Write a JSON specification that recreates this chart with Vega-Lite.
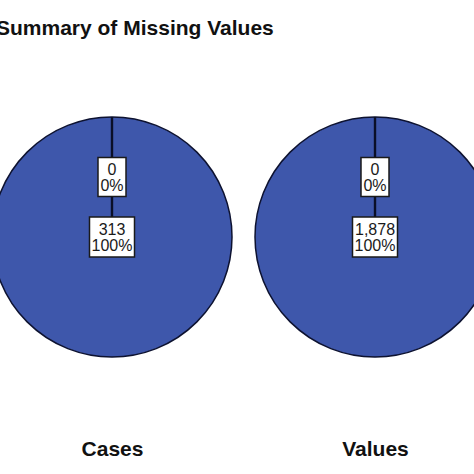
{
  "$schema": "https://vega.github.io/schema/vega-lite/v6.json",
  "width": 474,
  "height": 354,
  "autosize": {"type": "none"},
  "padding": {"top": 60, "bottom": 60, "left": 0, "right": 0},
  "background": "white",
  "title": {
    "text": "Summary of Missing Values",
    "anchor": "start",
    "frame": "group",
    "dx": -4,
    "offset": 4,
    "baseline": "alphabetic",
    "font": "Liberation Sans",
    "fontSize": 21,
    "fontWeight": "bold",
    "color": "#111111"
  },
  "config": {"view": {"stroke": null}},
  "data": {
    "values": [
      {"group": "Cases", "status": "Valid", "count": 313, "pct": 1, "panel": "all"},
      {"group": "Cases", "status": "Missing", "count": 0, "pct": 0, "panel": "all"},
      {"group": "Values", "status": "Valid", "count": 1878, "pct": 1, "panel": "all"},
      {"group": "Values", "status": "Missing", "count": 0, "pct": 0, "panel": "all"}
    ]
  },
  "encoding": {
    "x": {
      "field": "group",
      "type": "nominal",
      "sort": ["Cases", "Values"],
      "scale": {"type": "point", "range": [112, 375], "padding": 0},
      "axis": {
        "title": null,
        "orient": "bottom",
        "domain": false,
        "ticks": false,
        "tickSize": 0,
        "grid": false,
        "labelPadding": 41,
        "labelBaseline": "alphabetic",
        "labelFont": "Liberation Sans",
        "labelFontSize": 21,
        "labelFontWeight": "bold",
        "labelColor": "#111111",
        "labelAngle": 0
      }
    },
    "y": {
      "field": "panel",
      "type": "nominal",
      "scale": {"type": "point", "padding": 0.5},
      "axis": null
    }
  },
  "layer": [
    {
      "transform": [
        {"stack": "count", "groupby": ["group"], "offset": "normalize", "sort": [{"field": "pct", "order": "ascending"}], "as": ["t0", "t1"]}
      ],
      "mark": {"type": "arc", "outerRadius": 120, "fill": "#3E57AB", "stroke": "#0d1230", "strokeWidth": 1.5},
      "encoding": {
        "theta": {"field": "t0", "type": "quantitative", "scale": {"domain": [0, 1]}},
        "theta2": {"field": "t1"}
      }
    },
    {
      "transform": [
        {"stack": "count", "groupby": ["group"], "offset": "normalize", "sort": [{"field": "pct", "order": "ascending"}], "as": ["t0", "t1"]},
        {"filter": "datum.count == 0"}
      ],
      "mark": {"type": "arc", "outerRadius": 120, "fill": "#3E57AB", "stroke": "#0a0f28", "strokeWidth": 2.4},
      "encoding": {
        "theta": {"field": "t0", "type": "quantitative", "scale": {"domain": [0, 1]}},
        "theta2": {"field": "t1"}
      }
    },
    {
      "transform": [{"filter": "datum.count == 0"}],
      "mark": {"type": "point", "shape": "M-0.718,-1H0.718V1H-0.718Z", "size": 1521, "filled": true, "fill": "white", "stroke": "#1a1a1a", "strokeWidth": 1.5, "opacity": 1, "fillOpacity": 1, "yOffset": -60}
    },
    {
      "transform": [{"filter": "datum.count > 0"}],
      "mark": {"type": "point", "shape": "M-1.125,-1H1.125V1H-1.125Z", "size": 1600, "filled": true, "fill": "white", "stroke": "#1a1a1a", "strokeWidth": 1.5, "opacity": 1, "fillOpacity": 1}
    },
    {
      "transform": [{"filter": "datum.count == 0"}],
      "mark": {"type": "text", "font": "Liberation Sans", "fontSize": 16, "color": "#1a1a1a", "baseline": "middle", "dy": -67.5},
      "encoding": {"text": {"field": "count", "type": "quantitative", "format": ","}}
    },
    {
      "transform": [{"filter": "datum.count == 0"}],
      "mark": {"type": "text", "font": "Liberation Sans", "fontSize": 16, "color": "#1a1a1a", "baseline": "middle", "dy": -51.5},
      "encoding": {"text": {"field": "pct", "type": "quantitative", "format": ".0%"}}
    },
    {
      "transform": [{"filter": "datum.count > 0"}],
      "mark": {"type": "text", "font": "Liberation Sans", "fontSize": 16, "color": "#1a1a1a", "baseline": "middle", "dy": -7.5},
      "encoding": {"text": {"field": "count", "type": "quantitative", "format": ","}}
    },
    {
      "transform": [{"filter": "datum.count > 0"}],
      "mark": {"type": "text", "font": "Liberation Sans", "fontSize": 16, "color": "#1a1a1a", "baseline": "middle", "dy": 8.5},
      "encoding": {"text": {"field": "pct", "type": "quantitative", "format": ".0%"}}
    }
  ]
}
